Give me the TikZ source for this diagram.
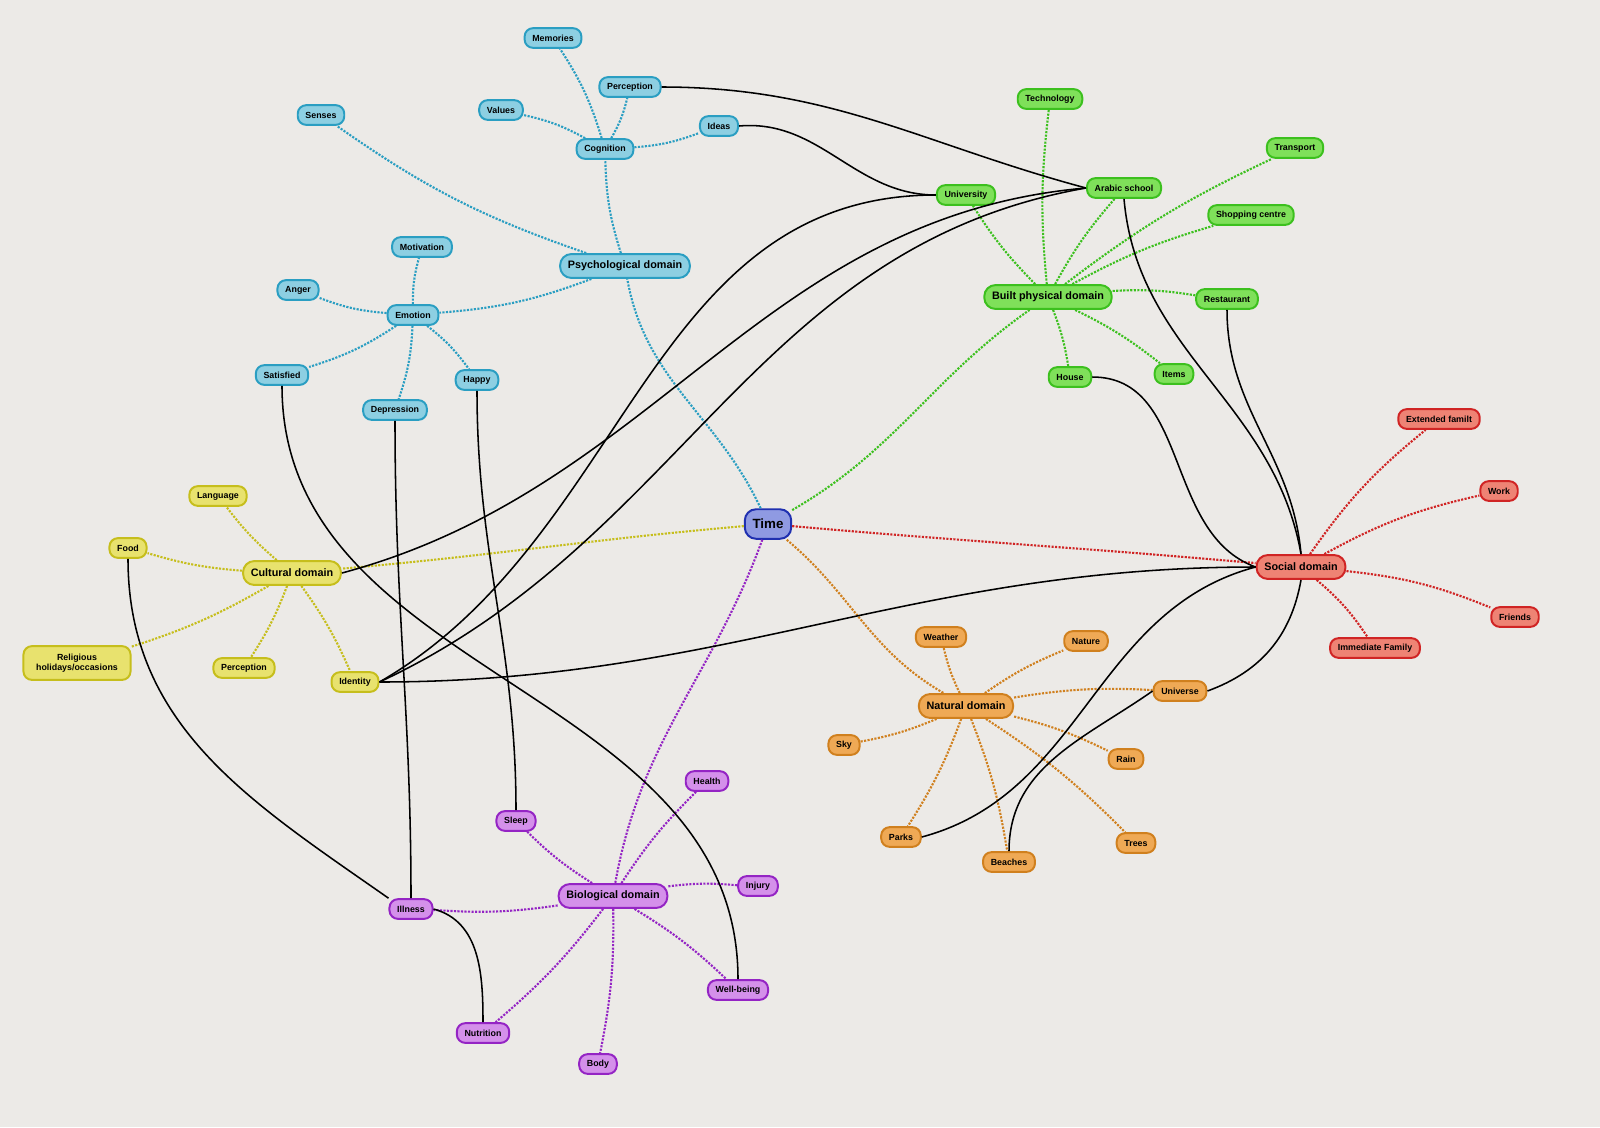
\documentclass[tikz,border=0pt]{standalone}
\usepackage{fontspec}
\setmainfont{Liberation Sans}
\begin{document}
\begin{tikzpicture}[x=0.025cm,y=-0.025cm,
 nb/.style={draw,rounded corners=6pt,line width=1.4pt,font=\bfseries\fontsize{6.3}{7.3}\selectfont,inner xsep=5.5pt,minimum height=14pt,align=center},
 dom/.style={nb,font=\bfseries\fontsize{7.7}{9}\selectfont,minimum height=17pt,rounded corners=8pt},
 cy/.style={fill=cyF,draw=cyD}, gr/.style={fill=grF,draw=grD}, rd/.style={fill=rdF,draw=rdD},
 orr/.style={fill=orF,draw=orD}, ye/.style={fill=yeF,draw=yeD}, pu/.style={fill=puF,draw=puD},
 dl/.style={densely dotted,line width=1.5pt},
 bl/.style={black,line width=1.1pt}]
\definecolor{bg}{HTML}{ECEAE7}
\definecolor{cyF}{HTML}{8DCFE2}\definecolor{cyD}{HTML}{2A9EC2}
\definecolor{grF}{HTML}{7FE05A}\definecolor{grD}{HTML}{3CC01E}
\definecolor{rdF}{HTML}{EE8374}\definecolor{rdD}{HTML}{D02424}
\definecolor{orF}{HTML}{EFA955}\definecolor{orD}{HTML}{D0801E}
\definecolor{yeF}{HTML}{E8E26E}\definecolor{yeD}{HTML}{C6BE1C}
\definecolor{puF}{HTML}{D490EA}\definecolor{puD}{HTML}{9424C4}
\definecolor{tiF}{HTML}{8F9AE2}\definecolor{tiD}{HTML}{2030B0}
\fill[bg] (0,0) rectangle (1600,1127);
\useasboundingbox (0,0) rectangle (1600,1127);
\node[dom,fill=tiF,draw=tiD,font=\bfseries\fontsize{9.5}{10}\selectfont,minimum height=21pt] (time) at (768,524) {Time};
% psych
\node[dom,cy] (psy) at (625,266) {Psychological domain};
\node[nb,cy] (cog) at (605,149) {Cognition};
\node[nb,cy] (mem) at (553,38) {Memories};
\node[nb,cy] (perc) at (630,87) {Perception};
\node[nb,cy] (val) at (501,110) {Values};
\node[nb,cy] (ideas) at (719,126) {Ideas};
\node[nb,cy] (sen) at (321,115) {Senses};
\node[nb,cy] (mot) at (422,247) {Motivation};
\node[nb,cy] (ang) at (298,290) {Anger};
\node[nb,cy] (emo) at (413,315) {Emotion};
\node[nb,cy] (sat) at (282,375) {Satisfied};
\node[nb,cy] (dep) at (395,410) {Depression};
\node[nb,cy] (hap) at (477,380) {Happy};
% built
\node[dom,gr] (bui) at (1048,297) {Built physical domain};
\node[nb,gr] (tec) at (1050,99) {Technology};
\node[nb,gr] (ara) at (1124,188) {Arabic school};
\node[nb,gr] (uni) at (966,195) {University};
\node[nb,gr] (tra) at (1295,148) {Transport};
\node[nb,gr] (sho) at (1251,215) {Shopping centre};
\node[nb,gr] (res) at (1227,299) {Restaurant};
\node[nb,gr] (ite) at (1174,374) {Items};
\node[nb,gr] (hou) at (1070,377) {House};
% social
\node[dom,rd] (soc) at (1301,567) {Social domain};
\node[nb,rd] (ext) at (1439,419) {Extended familt};
\node[nb,rd] (wor) at (1499,491) {Work};
\node[nb,rd] (fri) at (1515,617) {Friends};
\node[nb,rd] (imm) at (1375,648) {Immediate Family};
% natural
\node[dom,orr] (nat) at (966,706) {Natural domain};
\node[nb,orr] (wea) at (941,637) {Weather};
\node[nb,orr] (natu) at (1086,641) {Nature};
\node[nb,orr] (unv) at (1180,691) {Universe};
\node[nb,orr] (sky) at (844,745) {Sky};
\node[nb,orr] (rai) at (1126,759) {Rain};
\node[nb,orr] (tre) at (1136,843) {Trees};
\node[nb,orr] (bea) at (1009,862) {Beaches};
\node[nb,orr] (par) at (901,837) {Parks};
% cultural
\node[dom,ye] (cul) at (292,573) {Cultural domain};
\node[nb,ye] (lan) at (218,496) {Language};
\node[nb,ye] (foo) at (128,548) {Food};
\node[nb,ye,minimum height=24pt,inner xsep=9pt] (rel) at (77,663) {Religious\\holidays/occasions};
\node[nb,ye] (cper) at (244,668) {Perception};
\node[nb,ye] (ide) at (355,682) {Identity};
% bio
\node[dom,pu] (bio) at (613,896) {Biological domain};
\node[nb,pu] (hea) at (707,781) {Health};
\node[nb,pu] (sle) at (516,821) {Sleep};
\node[nb,pu] (inj) at (758,886) {Injury};
\node[nb,pu] (ill) at (411,909) {Illness};
\node[nb,pu] (wel) at (738,990) {Well-being};
\node[nb,pu] (nut) at (483,1033) {Nutrition};
\node[nb,pu] (bod) at (598,1064) {Body};
% colored links
\draw[dl,cyD] (time) to[out=115,in=-80] (psy);
\draw[dl,grD] (time) to[out=30,in=215] (bui);
\draw[dl,yeD] (time) to[out=185,in=5] (cul);
\draw[dl,rdD] (time) to[out=-5,in=175] (soc);
\draw[dl,orD] (time) to[out=-40,in=150] (nat);
\draw[dl,puD] (time) to[out=-110,in=80] (bio);
\foreach \a in {cog,sen,emo} \draw[dl,cyD] (psy) to[bend left=8] (\a);
\foreach \a in {mem,perc,val,ideas} \draw[dl,cyD] (cog) to[bend right=8] (\a);
\foreach \a in {mot,ang,sat,dep,hap} \draw[dl,cyD] (emo) to[bend left=8] (\a);
\foreach \a in {tec,ara,uni,tra,sho,res,ite,hou} \draw[dl,grD] (bui) to[bend left=6] (\a);
\foreach \a in {ext,wor,fri,imm} \draw[dl,rdD] (soc) to[bend left=8] (\a);
\foreach \a in {wea,natu,unv,sky,rai,tre,bea,par} \draw[dl,orD] (nat) to[bend left=6] (\a);
\foreach \a in {lan,foo,rel,cper,ide} \draw[dl,yeD] (cul) to[bend left=6] (\a);
\foreach \a in {hea,sle,inj,ill,wel,nut,bod} \draw[dl,puD] (bio) to[bend left=6] (\a);
% black links
\draw[bl] (perc.east) to[out=0,in=165] (ara.west);
\draw[bl] (ideas.east) to[out=5,in=180] (uni.west);
\draw[bl] (uni.west) to[out=180,in=30] (ide.east);
\draw[bl] (ara.west) to[out=185,in=15] (cul.east);
\draw[bl] (ara.west) to[out=190,in=25] (ide.east);
\draw[bl] (ara.south) to[out=-85,in=100] (soc.north);
\draw[bl] (res.south) to[out=-90,in=95] (soc.north);
\draw[bl] (hou.east) to[out=0,in=160] (soc.west);
\draw[bl] (ide.east) to[out=0,in=180] (soc.west);
\draw[bl] (soc.west) to[out=195,in=15] (par.east);
\draw[bl] (soc.south) to[out=-100,in=20] (unv.east);
\draw[bl] (bea.north) to[out=90,in=215] (unv.west);
\draw[bl] (sat.south) to[out=-90,in=90] (wel.north);
\draw[bl] (dep.south) to[out=-90,in=90] (ill.north);
\draw[bl] (hap.south) to[out=-90,in=90] (sle.north);
\draw[bl] (foo.south) to[out=-90,in=145] (ill.north west);
\draw[bl] (ill.east) to[out=-15,in=90] (nut.north);
\end{tikzpicture}
\end{document}
